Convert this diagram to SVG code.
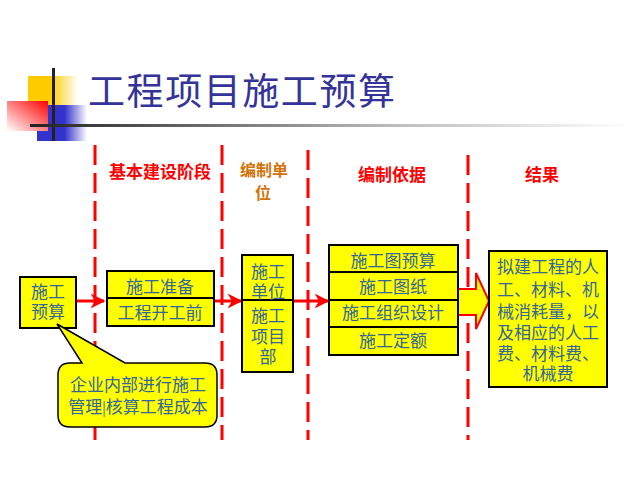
<svg xmlns="http://www.w3.org/2000/svg" width="639" height="480" viewBox="0 0 639 480">
<defs>
<linearGradient id="gy" x1="0" y1="0" x2="1" y2="0"><stop offset="0.45" stop-color="#FFCC00"/><stop offset="1" stop-color="#FFFFFF"/></linearGradient>
<linearGradient id="gb" x1="0" y1="0" x2="1" y2="0"><stop offset="0.55" stop-color="#3333CC"/><stop offset="1" stop-color="#FFFFFF"/></linearGradient>
<linearGradient id="gr" x1="0" y1="1" x2="1" y2="0"><stop offset="0" stop-color="#FFFFFF"/><stop offset="1" stop-color="#FF0000"/></linearGradient>
<linearGradient id="gl" x1="0" y1="0" x2="1" y2="0"><stop offset="0" stop-color="#222222"/><stop offset="0.6" stop-color="#BBBBBB"/><stop offset="1" stop-color="#FFFFFF"/></linearGradient>
<marker id="ah" viewBox="0 0 10 10" refX="9" refY="5" markerWidth="5" markerHeight="5" orient="auto" markerUnits="strokeWidth"><path d="M0,0 L10,5 L0,10 L3,5 Z" fill="#FF0000"/></marker>
</defs>
<style>
.box{fill:#FFFF00;stroke:#000;stroke-width:2}
.t{font-family:"Liberation Serif","Noto Sans CJK SC",sans-serif;font-size:17px;fill:#336699;text-anchor:middle}
.h{font-family:"Noto Sans CJK SC",sans-serif;font-size:17px;font-weight:bold;fill:#FF0000;text-anchor:middle}
.o{fill:#D2730A;font-size:16px}
.dash{stroke:#FF0000;stroke-width:3;stroke-dasharray:20 8;fill:none}
.arr{stroke:#FF0000;stroke-width:3;fill:none;marker-end:url(#ah)}
</style>
<rect width="639" height="480" fill="#FFFFFF"/>
<g id="decor">
<rect x="28" y="76" width="50" height="30" fill="url(#gy)"/>
<rect x="37" y="105" width="50" height="36" fill="url(#gb)"/>
<rect x="7" y="101" width="41" height="30" fill="url(#gr)"/>
<rect x="52" y="68" width="3" height="73" fill="#222"/>
<rect x="30" y="124" width="600" height="3" fill="url(#gl)"/>
</g>
<text id="title" x="88" y="105" font-family="Noto Sans CJK SC, sans-serif" font-size="37" fill="#333399" textLength="307">工程项目施工预算</text>
<g id="dividers">
<line class="dash" x1="95" y1="145" x2="95" y2="440"/>
<line class="dash" x1="222" y1="145" x2="222" y2="440"/>
<line class="dash" x1="308" y1="150" x2="308" y2="440"/>
<line class="dash" x1="468" y1="155" x2="468" y2="440"/>
</g>
<g id="headers">
<text class="h" x="160" y="178">基本建设阶段</text>
<text class="h o" x="264" y="176">编制单</text>
<text class="h o" x="263" y="199">位</text>
<text class="h" x="392" y="181">编制依据</text>
<text class="h" x="542" y="181">结果</text>
</g>
<g id="connectors">
<line class="arr" x1="77" y1="301" x2="104" y2="301"/>
<line class="arr" x1="214" y1="301" x2="241" y2="301"/>
<line class="arr" x1="293" y1="301" x2="328" y2="301"/>
<path d="M458,289 L476,289 L476,273 L489,301 L476,329 L476,315 L458,315 Z" fill="#FFFF00" stroke="#FF0000" stroke-width="2"/>
</g>
<g id="n1">
<rect class="box" x="20" y="277" width="56" height="51"/>
<text class="t" x="48" y="298">施工</text>
<text class="t" x="48" y="318">预算</text>
</g>
<g id="n2">
<rect class="box" x="107" y="271" width="107" height="27"/>
<rect class="box" x="107" y="298" width="107" height="28"/>
<text class="t" x="160" y="293">施工准备</text>
<text class="t" x="160" y="319">工程开工前</text>
</g>
<g id="n3">
<rect class="box" x="242" y="255" width="51" height="45"/>
<rect class="box" x="242" y="300" width="51" height="72"/>
<text class="t" x="268" y="278">施工</text>
<text class="t" x="268" y="298">单位</text>
<text class="t" x="268" y="322">施工</text>
<text class="t" x="268" y="343">项目</text>
<text class="t" x="268" y="363">部</text>
</g>
<g id="n4">
<rect class="box" x="329" y="245" width="129" height="27"/>
<rect class="box" x="329" y="272" width="129" height="28"/>
<rect class="box" x="329" y="300" width="129" height="27"/>
<rect class="box" x="329" y="327" width="129" height="28"/>
<text class="t" x="393" y="267">施工图预算</text>
<text class="t" x="393" y="293">施工图纸</text>
<text class="t" x="393" y="319">施工组织设计</text>
<text class="t" x="393" y="347">施工定额</text>
</g>
<g id="n5">
<rect class="box" x="489" y="251" width="118" height="136"/>
<text class="t" x="548" y="273">拟建工程的人</text>
<text class="t" x="548" y="296">工、材料、机</text>
<text class="t" x="548" y="318">械消耗量，以</text>
<text class="t" x="548" y="339">及相应的人工</text>
<text class="t" x="548" y="360">费、材料费、</text>
<text class="t" x="548" y="380">机械费</text>
</g>
<g id="callout">
<path d="M70,363 L82,363 L57,324 L125,363 L205,363 Q217,363 217,375 L217,415 Q217,427 205,427 L70,427 Q58,427 58,415 L58,375 Q58,363 70,363 Z" fill="#FFFF00" stroke="#000" stroke-width="1.5"/>
<text class="t" x="138" y="391">企业内部进行施工</text>
<text class="t" x="138" y="413">管理|核算工程成本</text>
</g>
</svg>
